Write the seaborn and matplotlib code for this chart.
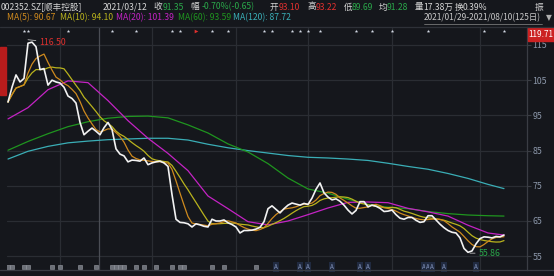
import pandas as pd
import matplotlib
matplotlib.use('Agg')
import matplotlib.pyplot as plt
import matplotlib.transforms as mtrans
from matplotlib.patches import Rectangle
from matplotlib.lines import Line2D
import seaborn as sns

#------------------------------------------
# 002352.SZ daily close, 2021/01/29 - 2021/08/10 (125 days)
close=[98.8, 103, 106.5, 104.5, 105.5, 115.5, 115.8, 114.5, 108, 108.3,
       103.6, 105, 104.5, 104.2, 103, 100.5, 99.8, 98.5, 93, 89.5,
       90.5, 91.4, 90.5, 89.5, 91.5, 93, 91, 85.5, 84, 83.5,
       81.8, 82.3, 82.2, 82, 82.9, 81, 81.5, 81.8, 82, 81.5,
       80.5, 72.5, 65.5, 64.6, 64.5, 64.2, 63.3, 64.2, 63.9, 63.5,
       63.3, 65.5, 65, 65, 65.3, 64.5, 64, 63.3, 61.6, 62.3,
       62.3, 62.4, 62.7, 63.2, 64.8, 68.5, 69.3, 68.3, 67.3, 68.5,
       69.5, 70.1, 69.8, 69.5, 70, 69.7, 71.5, 74, 75.8, 73,
       71.8, 71, 71.3, 70.6, 69.5, 68.1, 67, 68, 70.5, 70.5,
       69, 69.5, 69.2, 68.6, 67.7, 67.8, 68.1, 66.8, 65.8, 65.5,
       66, 66, 65.2, 64.6, 64.8, 66.5, 66.5, 65.3, 64.1, 63.1,
       62.3, 61.8, 61.6, 60.2, 57.2, 56.1, 56.5, 58.5, 60, 60.5,
       60.4, 60.2, 60.6, 60.5, 61]

# long moving averages read every 5 days (they need data before the window)
ma_day=list(range(0, 125, 5))+[124]
ma20=[94, 97.2, 102.3, 104.8, 104.3, 99.2, 93.5, 88.5, 84.2, 79.3,
      72.1, 68.5, 64.8, 63.9, 65, 66.8, 68.7, 70.3, 70.4, 70.2,
      68.6, 67.6, 66.4, 63.8, 61.6, 61]
ma60=[85.1, 87.6, 89.8, 91.8, 93.2, 94.2, 94.7, 94.8, 94.3, 92.3,
      90, 86.9, 84.6, 81.3, 77.2, 74.1, 72.9, 71.2, 69.7, 68.9,
      68.5, 67.7, 67.1, 66.7, 66.5, 66.4]
ma120=[82.6, 84.8, 86.2, 87.2, 87.7, 88.1, 88.3, 88.5, 88.5, 88.0,
       86.8, 85.8, 85, 84.3, 83.6, 83.1, 82.9, 82.6, 82.2, 81.4,
       80.5, 79.7, 78.5, 77.1, 75.4, 74.2]

yticks=[55, 65, 75, 85, 95, 105, 115]
grid_day=[13, 36, 57, 75, 96, 118]
cursor_day=22.75
hi_day, hi_val=5, 116.50
lo_day, lo_val=115.5, 55.86
star_day=[4, 5, 15, 26, 32, 41, 43, 51, 55, 64, 66, 71, 73, 75, 78, 87, 91, 96, 105, 119, 124]
flag_day=[47]
box_day=[0, 1, 4, 5, 11, 13, 18, 22, 26, 27, 28, 29, 32, 34, 37, 41, 43, 44, 51, 54, 62]
a_day=[67, 73, 75, 81, 88, 90, 104, 105, 106, 109, 117]

c_bg='#15171c'
c_grid='#2a2d33'
c_ma5='#cf8a1e'
c_ma10='#b9b31d'
c_ma20='#c423c4'
c_ma60='#1f951f'
c_ma120='#3aaeb6'
c_red='#e0302e'
c_green='#2aa84a'
c_txt='#d6d6d6'

#####################################################
W, H=554, 276
sns.set_style('dark')
plt.rcParams['font.family']=['Noto Sans CJK SC', 'DejaVu Sans']

s=pd.Series(close)
df=pd.DataFrame({'day': range(len(close)), 'close': close,
                 'ma5': s.rolling(5, min_periods=1).mean(),
                 'ma10': s.rolling(10, min_periods=1).mean()})
dfm=pd.DataFrame({'day': ma_day, 'ma20': ma20, 'ma60': ma60, 'ma120': ma120})

fig=plt.figure(figsize=(W/100, H/100), dpi=100, facecolor=c_bg)
ax=fig.add_axes([7/W, 6/H, 520/W, 243/H])
ax.set_facecolor(c_bg)

# grid
for v in yticks:
    ax.axhline(v, color=c_grid, lw=0.9, zorder=0)
for d in grid_day:
    ax.axvline(d, color=c_grid, lw=0.9, zorder=0)
ax.axvline(cursor_day, color='#4a4d54', lw=0.9, zorder=0)

# lines
sns.lineplot(data=dfm, x='day', y='ma120', ax=ax, color=c_ma120, lw=0.9)
sns.lineplot(data=dfm, x='day', y='ma60', ax=ax, color=c_ma60, lw=0.9)
sns.lineplot(data=dfm, x='day', y='ma20', ax=ax, color=c_ma20, lw=0.9)
sns.lineplot(data=df, x='day', y='ma10', ax=ax, color=c_ma10, lw=0.9)
sns.lineplot(data=df, x='day', y='ma5', ax=ax, color=c_ma5, lw=0.9)
sns.lineplot(data=df, x='day', y='close', ax=ax, color='#f2f2f2', lw=1.2)

ax.set_xlim(-0.25, 129.75)
ax.set_ylim(51.08, 120.11)
ax.set_xlabel('')
ax.set_ylabel('')
ax.set_xticks([])
ax.yaxis.tick_right()
ax.set_yticks(yticks)
ax.set_yticklabels([str(v) for v in yticks])
ax.tick_params(axis='y', colors='#3a3d44', labelcolor='#8c97aa', labelsize=6.3, length=3, pad=1, width=0.8)
for sp in ['left', 'top', 'bottom']:
    ax.spines[sp].set_visible(False)
ax.spines['right'].set_color('#3a3d44')
ax.spines['right'].set_linewidth(0.9)

# hi / lo labels
ax.annotate(f'{hi_val:.2f}', xy=(hi_day, hi_val), xytext=(8, -2), textcoords='offset points',
            color=c_red, fontsize=6.3, va='center',
            arrowprops=dict(arrowstyle='-', color='#bbbbbb', lw=0.6, shrinkA=0, shrinkB=0))
ax.annotate(f'{lo_val:.2f}', xy=(lo_day, lo_val), xytext=(6, 0), textcoords='offset points',
            color=c_green, fontsize=6.3, va='center',
            arrowprops=dict(arrowstyle='-', color='#bbbbbb', lw=0.6, shrinkA=0, shrinkB=0))

# event markers
tr=mtrans.blended_transform_factory(ax.transData, ax.transAxes)
ax.scatter(star_day, [0.985]*len(star_day), marker='*', s=7, color='#d5dbe6', lw=0, transform=tr, clip_on=False, zorder=5)
ax.scatter(flag_day, [0.985]*len(flag_day), marker='>', s=7, color=c_red, lw=0, transform=tr, clip_on=False, zorder=5)
ax.scatter(box_day, [0.013]*len(box_day), marker='s', s=9, color='#6b6f77', edgecolor='#9a9ea6', lw=0.4, transform=tr, zorder=5)
for d in a_day:
    ax.text(d, 0.013, 'A', transform=tr, color='#8595bd', fontsize=4.5, ha='center', va='center',
            bbox=dict(boxstyle='square,pad=0.15', fc='#202a40', ec='none'), zorder=5)

# header texts
def ftxt(x, y, txt, c, fs=6.2, **kw):
    fig.text(x/W, 1-y/H, txt, color=c, fontsize=fs, ha='left', va='center', **kw)

ftxt(1, 7, '002352.SZ[顺丰控股]', c_txt)
ftxt(103, 7, '2021/03/12', c_txt)
ftxt(153, 7, '收', c_txt)
ftxt(163, 7, '91.35', c_green)
ftxt(190, 7, '幅', c_txt)
ftxt(202, 7, '-0.70%(-0.65)', c_green)
ftxt(270, 7, '开', c_txt)
ftxt(279, 7, '93.10', c_red)
ftxt(308, 7, '高', c_txt)
ftxt(316, 7, '93.22', c_red)
ftxt(344, 7, '低', c_txt)
ftxt(352, 7, '89.69', c_green)
ftxt(379, 7, '均', c_txt)
ftxt(387, 7, '91.28', c_green)
ftxt(415, 7, '量', c_txt)
ftxt(423, 7, '17.38万', c_txt)
ftxt(455, 7, '换', c_txt)
ftxt(463, 7, '0.39%', c_txt)
ftxt(535, 7, '振', c_txt)

ftxt(7, 18, 'MA(5): 90.67', c_ma5)
ftxt(60, 18, 'MA(10): 94.10', c_ma10)
ftxt(116, 18, 'MA(20): 101.39', c_ma20)
ftxt(178, 18, 'MA(60): 93.59', c_ma60)
ftxt(233, 18, 'MA(120): 87.72', c_ma120)
ftxt(424, 18, '2021/01/29-2021/08/10(125日)', '#c8c8c8', fs=6.0)
ftxt(546, 18, '▼', '#b0b0b0', fs=5.5, family=['DejaVu Sans'])
fig.add_artist(Line2D([424/W, 542/W], [1-24/H, 1-24/H], color='#8a8a8a', lw=0.5))

# frame lines
fig.add_artist(Line2D([0, 1], [1-27/H, 1-27/H], color='#2e3138', lw=0.9))
fig.add_artist(Line2D([0, 1], [1-270/H, 1-270/H], color='#3a3d44', lw=0.9))

# right price tag
fig.add_artist(Rectangle((528/W, 1-41/H), 26/W, 13/H, color='#cc2222'))
fig.text(541/W, 1-34.5/H, '119.71', color='#ffffff', fontsize=5.9, ha='center', va='center')

# left toolbar
fig.add_artist(Rectangle((0, 1-95/H), 6/W, 48/H, color='#b81c1c'))

#save
plt.savefig('out.png', dpi=100, facecolor=c_bg)
plt.close()
